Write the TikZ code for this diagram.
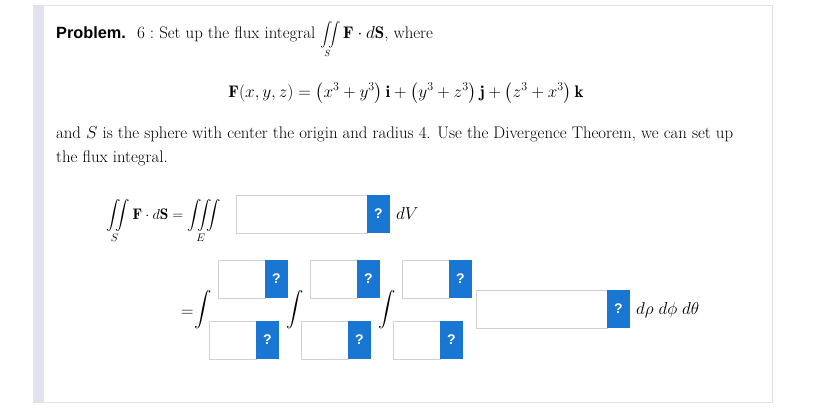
\documentclass[tikz,border=0pt]{standalone}
\usepackage{amsmath}
\usepackage{fontspec}
\newfontfamily\hv{Liberation Sans}
\definecolor{qblue}{RGB}{25,118,210}
\definecolor{barc}{RGB}{226,226,238}
\begin{document}
\begin{tikzpicture}[x=1pt,y=-1pt,
  txt/.style={inner sep=0,anchor=base west,font=\fontsize{16.8}{19}\selectfont},
  wbox/.style={draw=black!18,fill=white,line width=0.8pt},
  qbox/.style={fill=qblue,draw=none},
  qm/.style={text=white,font=\hv\bfseries\fontsize{14}{14}\selectfont}]
\useasboundingbox (0,0) rectangle (834,410);
\fill[white] (0,0) rectangle (834,410);
\draw[black!12,fill=white] (33,5) rectangle (772,402);
\fill[barc] (33,5.5) rectangle (44,401.5);
\node[txt,font=\hv\bfseries\fontsize{16.3}{19}\selectfont] (prob) at (56,38) {Problem.};
\node[txt] (l1) at (137,38) {$6:$ Set up the flux integral {\fontsize{13}{14}\selectfont$\displaystyle\iint\limits_S$}\,$\mathbf{F}\cdot d\mathbf{S}$, where};
\node[txt,anchor=base] (fx) at (406,97) {$\mathbf{F}(x,y,z)=\bigl(x^3+y^3\bigr)\,\mathbf{i}+\bigl(y^3+z^3\bigr)\,\mathbf{j}+\bigl(z^3+x^3\bigr)\,\mathbf{k}$};
\node[txt] (l2) at (56,138) {and $S$ is the sphere with center the origin and radius 4. Use the Divergence Theorem, we can set up};
\node[txt] (l3) at (56,162) {the flux integral.};
\node[txt,font=\fontsize{15.3}{18}\selectfont] (eq1) at (106,219) {$\displaystyle\iint\limits_S \mathbf{F}\cdot d\mathbf{S}=\iiint\limits_E$};
\node[txt] (dv) at (396,219) {$dV$};
\newcommand\qb[4]{% x1 x2 y name
  \draw[wbox] (#1,#3) rectangle (#2,#3+38);
  \fill[qbox] (#2,#3) rectangle (#2+23,#3+38);
  \node[qm] (#4) at (#2+11.5,#3+19) {?};}
\qb{236}{367}{195}{b0}
\qb{218}{265}{260}{t1}
\qb{310}{357}{260}{t2}
\qb{402}{449}{260}{t3}
\qb{209}{256}{321}{u1}
\qb{301}{348}{321}{u2}
\qb{393}{440}{321}{u3}
\qb{476}{607}{290}{b1}
\node[txt] (eq) at (181,316) {$=$};
\node[txt,anchor=center] (i1) at (203,310) {$\displaystyle\int$};
\node[txt,anchor=center] (i2) at (295,310) {$\displaystyle\int$};
\node[txt,anchor=center] (i3) at (387,310) {$\displaystyle\int$};
\node[txt] (dr) at (636,314) {$d\rho\;d\phi\;d\theta$};
\end{tikzpicture}
\end{document}
